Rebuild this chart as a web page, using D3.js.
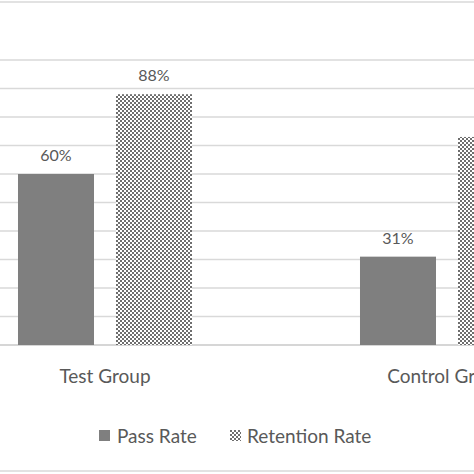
<!DOCTYPE html><html><head><meta charset="utf-8">
<script src="https://cdn.jsdelivr.net/npm/d3@7"></script>
<style>body{margin:0;background:#fff}svg{display:block}</style></head><body>
<script>
const categories=["Test Group","Control Group"];
const series=["Pass Rate","Retention Rate"];
const passRate=[60,31];
const retentionRate=[88,73];
const yTicks=[0,10,20,30,40,50,60,70,80,90,100];

const W=474,H=474;
const svg=d3.select("body").append("svg").attr("width",W).attr("height",H);
const defs=svg.append("defs");
const p=defs.append("pattern").attr("id","chk").attr("width",4).attr("height",4).attr("patternUnits","userSpaceOnUse");
p.append("rect").attr("width",4).attr("height",4).attr("fill","#fff");
p.append("rect").attr("x",0).attr("y",0).attr("width",2).attr("height",2).attr("fill","#6e6e6e");
p.append("rect").attr("x",2).attr("y",2).attr("width",2).attr("height",2).attr("fill","#6e6e6e");

const y=d3.scaleLinear().domain([0,100]).range([345,60]);
const x=d3.scaleBand().domain(categories).range([-66,618]).paddingInner(0).paddingOuter(0);
const xs=d3.scaleBand().domain(series).range([0,x.bandwidth()]).paddingInner(0.2245).paddingOuter(0.857);
const F="Lato, 'Open Sans', sans-serif";

svg.append("line").attr("x1",0).attr("x2",W).attr("y1",2).attr("y2",2).attr("stroke","#d9d9d9").attr("stroke-width",1.5);
svg.append("line").attr("x1",0).attr("x2",W).attr("y1",471).attr("y2",471).attr("stroke","#d9d9d9").attr("stroke-width",1.5);
svg.append("g").selectAll("line").data(yTicks).join("line")
 .attr("x1",0).attr("x2",W).attr("y1",d=>y(d)).attr("y2",d=>y(d))
 .attr("stroke",d=>d===0?"#c8c8c8":"#d9d9d9").attr("stroke-width",1.3);

const data=[];
categories.forEach((c,i)=>{data.push({c,s:series[0],v:passRate[i]});data.push({c,s:series[1],v:retentionRate[i]});});
svg.append("g").selectAll("rect").data(data).join("rect")
 .attr("x",d=>x(d.c)+xs(d.s)).attr("width",xs.bandwidth())
 .attr("y",d=>y(d.v)).attr("height",d=>y(0)-y(d.v))
 .attr("fill",d=>d.s===series[0]?"#7f7f7f":"url(#chk)");
svg.append("g").selectAll("text").data(data).join("text")
 .attr("x",d=>x(d.c)+xs(d.s)+xs.bandwidth()/2).attr("y",d=>y(d.v)-13)
 .attr("text-anchor","middle").attr("font-family",F).attr("font-size",16).attr("fill","#595959")
 .text(d=>d.v+"%");
svg.append("g").selectAll("text").data(categories).join("text")
 .attr("x",d=>x(d)+x.bandwidth()/2).attr("y",383)
 .attr("text-anchor","middle").attr("font-family",F).attr("font-size",19).attr("fill","#595959")
 .text(d=>d);
const lg=svg.append("g").attr("font-family",F).attr("font-size",19).attr("fill","#595959");
lg.append("rect").attr("x",99).attr("y",430).attr("width",11).attr("height",11).attr("fill","#7f7f7f");
lg.append("text").attr("x",117).attr("y",443).text(series[0]);
lg.append("rect").attr("x",230).attr("y",430).attr("width",11).attr("height",11).attr("fill","url(#chk)");
lg.append("text").attr("x",247).attr("y",443).text(series[1]);
</script></body></html>
